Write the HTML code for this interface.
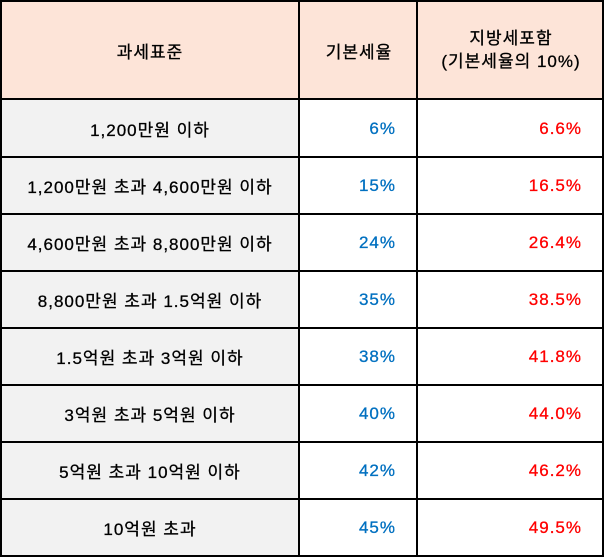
<!DOCTYPE html>
<html><head><meta charset="utf-8"><style>
body{margin:0;width:604px;height:557px;background:#fff;font-family:"Liberation Sans","Noto Sans CJK KR",sans-serif;overflow:hidden}
.c{position:absolute;display:flex;align-items:center;font-size:17px;letter-spacing:1px;-webkit-text-stroke:0.3px currentColor;color:#000;box-sizing:border-box}
.l{position:absolute;background:#000}
</style></head><body>
<div style="position:absolute;left:0;top:0;width:604px;height:557px">
<div class="c" style="left:0;top:0;width:300px;height:100px;background:#fde4d8;justify-content:center">과세표준</div>
<div class="c" style="left:300px;top:0;width:118px;height:100px;background:#fde4d8;justify-content:center">기본세율</div>
<div class="c" style="left:418px;top:0;width:186px;height:100px;background:#fde4d8;justify-content:center;text-align:center;line-height:23px">지방세포함<br>(기본세율의 10%)</div>
<div id="rows"></div>
<div class="l" style="left:0;top:0;width:604px;height:2px"></div>
<div class="l" style="left:0;top:555px;width:604px;height:2px"></div>
<div class="l" style="left:0;top:0;width:2px;height:557px"></div>
<div class="l" style="left:602px;top:0;width:2px;height:557px"></div>
<div class="l" style="left:298px;top:0;width:2px;height:557px"></div>
<div class="l" style="left:416px;top:0;width:2px;height:557px"></div>
<div class="l" style="left:0;top:98px;width:604px;height:2px"></div>
</div>
<script>
const brackets=["1,200만원 이하","1,200만원 초과 4,600만원 이하","4,600만원 초과 8,800만원 이하","8,800만원 초과 1.5억원 이하","1.5억원 초과 3억원 이하","3억원 초과 5억원 이하","5억원 초과 10억원 이하","10억원 초과"];
const basic=["6%","15%","24%","35%","38%","40%","42%","45%"];
const local=["6.6%","16.5%","26.4%","38.5%","41.8%","44.0%","46.2%","49.5%"];
const rows=document.getElementById('rows');
brackets.forEach((b,i)=>{
 const top=100+i*57;
 const a=document.createElement('div');a.className='c';
 
 
 a.style.cssText=`left:0;top:${top}px;width:300px;height:57px;background:#f2f2f2;justify-content:center`;a.textContent=b;rows.appendChild(a);
 const c=document.createElement('div');c.className='c';
 
 
 c.style.cssText=`left:300px;top:${top}px;width:118px;height:57px;justify-content:flex-end;padding-right:22px;color:#0070c0`;c.textContent=basic[i];rows.appendChild(c);
 const d=document.createElement('div');d.className='c';
 
 
 d.style.cssText=`left:418px;top:${top}px;width:186px;height:57px;justify-content:flex-end;padding-right:22px;color:#ff0000`;d.textContent=local[i];rows.appendChild(d);
 if(i>0){const l=document.createElement('div');l.className='l';
 
 
 l.style.cssText=`left:0;top:${top-1}px;width:604px;height:2px`;rows.appendChild(l);}
});
</script>
</body></html>
